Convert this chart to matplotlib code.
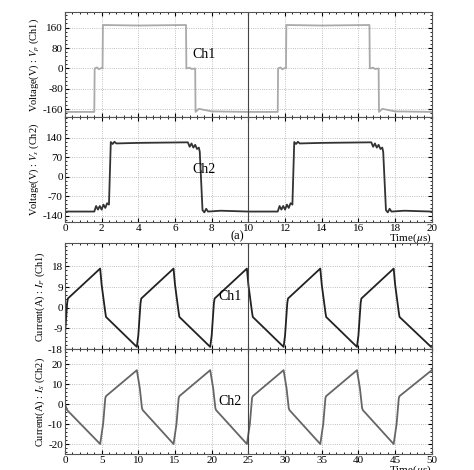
import matplotlib
matplotlib.use("Agg")
import matplotlib.pyplot as plt
from matplotlib.ticker import AutoMinorLocator

plt.rcParams['font.family'] = ['Liberation Serif', 'DejaVu Serif']
plt.rcParams['mathtext.fontset'] = 'stix'

# Panel (a) Ch1: Vp
t_vp = [0, 1.6, 1.62, 1.75, 1.85, 2.0, 2.05, 2.07, 4, 6.6, 6.62, 6.8, 6.9, 7.1, 7.12, 7.3, 8, 10,
        11.6, 11.62, 11.75, 11.85, 12.0, 12.05, 12.07, 14, 16.6, 16.62, 16.8, 16.9, 17.1, 17.12, 17.3, 18, 20]
v_vp = [-170, -170, 0, 4, -3, 2, 0, 170, 168, 170, 0, 3, -2, 0, -170, -158, -168, -170,
        -170, 0, 4, -3, 2, 0, 170, 168, 170, 0, 3, -2, 0, -170, -158, -168, -170]
# Panel (a) Ch2: Vs
t_vs = [0, 1.6, 1.7, 1.8, 1.9, 2.0, 2.1, 2.2, 2.3, 2.4, 2.5, 2.6, 2.7, 2.8, 4, 6.7, 6.8, 6.9, 7.0, 7.1, 7.2, 7.3, 7.35, 7.5, 7.6, 7.7, 7.8, 8.5, 10,
        11.6, 11.7, 11.8, 11.9, 12.0, 12.1, 12.2, 12.3, 12.4, 12.5, 12.6, 12.7, 12.8, 14, 16.7, 16.8, 16.9, 17.0, 17.1, 17.2, 17.3, 17.35, 17.5, 17.6, 17.7, 17.8, 18.5, 20]
v_vs = [-125, -125, -105, -118, -105, -118, -100, -112, -95, -100, 125, 118, 126, 120, 122, 124, 108, 120, 105, 115, 100, 105, 90, -120, -128, -115, -125, -122, -125,
        -125, -105, -118, -105, -118, -100, -112, -95, -100, 125, 118, 126, 120, 122, 124, 108, 120, 105, 115, 100, 105, 90, -120, -128, -115, -125, -122, -125]
# Panel (b) Ch1: Ip
t_ip = [0, 0.3, 0.4, 4.8, 5.0, 5.5, 5.6, 9.8, 10.0, 10.3, 10.4, 14.8, 15.0, 15.5, 15.6, 19.8, 20.0, 20.3, 20.4, 24.8, 25.0, 25.5, 25.6,
        29.8, 30.0, 30.3, 30.4, 34.8, 35.0, 35.5, 35.6, 39.8, 40.0, 40.3, 40.4, 44.8, 45.0, 45.5, 45.6, 49.9]
v_ip = [-12, 2, 4, 17, 10, -2, -4, -17, -12, 2, 4, 17, 10, -2, -4, -17, -12, 2, 4, 17, 10, -2, -4,
        -17, -12, 2, 4, 17, 10, -2, -4, -17, -12, 2, 4, 17, 10, -2, -4, -17]
# Panel (b) Ch2: Is
t_is = [0, 0.2, 0.3, 4.8, 5.2, 5.5, 5.6, 9.8, 10.2, 10.5, 10.6, 14.8, 15.2, 15.5, 15.6, 19.8, 20.2, 20.5, 20.6, 24.8, 25.2, 25.5, 25.6,
        29.8, 30.2, 30.5, 30.6, 34.8, 35.2, 35.5, 35.6, 39.8, 40.2, 40.5, 40.6, 44.8, 45.2, 45.5, 45.6, 50]
v_is = [0, -2, -3, -20, -10, 3, 4, 17, 8, -2, -3, -20, -10, 3, 4, 17, 8, -2, -3, -20, -10, 3, 4,
        17, 8, -2, -3, -20, -10, 3, 4, 17, 8, -2, -3, -20, -10, 3, 4, 17]

fig = plt.figure(figsize=(4.74, 4.70), dpi=100)
L, W = 0.137, 0.774
specs = [
    (0.751, 0.223, t_vp, v_vp, '#aaaaaa', (0, 20), (-190, 220), [160, 80, 0, -80, -160], r'Voltage(V) : $V_p$ (Ch1)', 'Ch1', False),
    (0.528, 0.223, t_vs, v_vs, '#333333', (0, 20), (-162, 215), [140, 70, 0, -70, -140], r'Voltage(V) : $V_s$ (Ch2)', 'Ch2', True),
    (0.257, 0.2255, t_ip, v_ip, '#222222', (0, 50), (-18, 28), [18, 9, 0, -9, -18], r'Current(A) : $I_P$ (Ch1)', 'Ch1', False),
    (0.034, 0.223, t_is, v_is, '#666666', (0, 50), (-25, 27.5), [20, 10, 0, -10, -20], r'Current(A) : $I_S$ (Ch2)', 'Ch2', True),
]
for b, h, tx, vy, col, xl, yl, yt, ylab, ch, showx in specs:
    ax = fig.add_axes([L, b, W, h])
    ax.plot(tx, vy, color=col, lw=1.3)
    ax.set_xlim(*xl); ax.set_ylim(*yl)
    ax.set_yticks(yt)
    ax.set_yticklabels([str(v) for v in yt], fontsize=7)
    if xl[1] == 20:
        ax.set_xticks(range(0, 21, 2))
    else:
        ax.set_xticks(range(0, 51, 5))
    ax.grid(True, ls=':', color='#aaaaaa', lw=0.6)
    ax.axvline((xl[0] + xl[1]) / 2, color='#444444', lw=0.8)
    ax.xaxis.set_minor_locator(AutoMinorLocator(5))
    ax.yaxis.set_minor_locator(AutoMinorLocator(5))
    ax.tick_params(which='both', direction='in', top=True, right=True, labelsize=8, pad=1.5)
    ax.tick_params(which='major', length=3)
    ax.tick_params(which='minor', length=1.5)
    if not showx:
        ax.set_xticklabels([])
    for s in ax.spines.values():
        s.set_color('#555555'); s.set_linewidth(0.8)
    ax.set_ylabel(ylab, fontsize=7.5, labelpad=1)
    ax.text(0.45 if xl[1] == 50 else 0.38, 0.6 if b > 0.7 else 0.5, ch, transform=ax.transAxes, fontsize=10, ha='center', va='center')
    if showx:
        ax.text(1.0, -0.09, r'Time($\mu$s)', transform=ax.transAxes, fontsize=8, ha='right', va='top')

fig.text(0.5, 0.498, '(a)', ha='center', va='center', fontsize=9)
fig.savefig('out.png', dpi=100)
